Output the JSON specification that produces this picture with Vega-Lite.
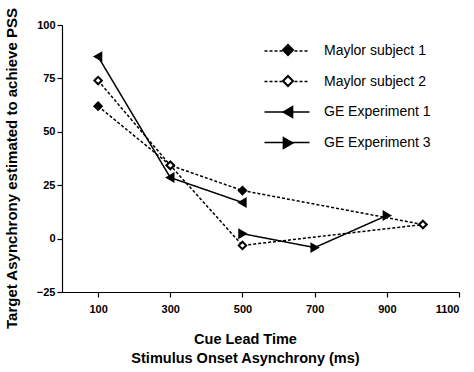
{
  "$schema": "https://vega.github.io/schema/vega-lite/v6.json",
  "width": 397,
  "height": 267,
  "autosize": "none",
  "padding": {"left": 62, "top": 25, "right": 15, "bottom": 80},
  "background": "white",
  "config": {
    "font": "Liberation Sans",
    "view": {"stroke": null},
    "axis": {"grid": false, "domainColor": "black", "tickColor": "black", "labelColor": "black", "titleColor": "black", "labelFontSize": 11, "labelFontWeight": "bold", "labelFont": "Liberation Sans", "titleFont": "Liberation Sans", "titleFontSize": 14.5, "titleFontWeight": "bold", "tickSize": 5, "domainWidth": 1.2, "tickWidth": 1.2},
    "legend": {"labelFont": "Liberation Sans", "labelFontSize": 14, "labelColor": "black"}
  },
  "data": {"values": [
    {"series": "Maylor subject 1", "x": 100, "y": 62},
    {"series": "Maylor subject 1", "x": 300, "y": 34.3},
    {"series": "Maylor subject 1", "x": 500, "y": 22.5},
    {"series": "Maylor subject 1", "x": 1000, "y": 6.6},
    {"series": "Maylor subject 2", "x": 100, "y": 74},
    {"series": "Maylor subject 2", "x": 300, "y": 34.3},
    {"series": "Maylor subject 2", "x": 500, "y": -3.2},
    {"series": "Maylor subject 2", "x": 1000, "y": 6.6},
    {"series": "GE Experiment 1", "x": 100, "y": 85.2},
    {"series": "GE Experiment 1", "x": 300, "y": 28.6},
    {"series": "GE Experiment 1", "x": 500, "y": 16.9},
    {"series": "GE Experiment 3", "x": 500, "y": 2.3},
    {"series": "GE Experiment 3", "x": 700, "y": -4.2},
    {"series": "GE Experiment 3", "x": 900, "y": 10.8}
  ]},
  "encoding": {
    "x": {"field": "x", "type": "quantitative", "scale": {"domain": [0, 1100], "nice": false, "zero": false},
      "axis": {"values": [100, 300, 500, 700, 900, 1100], "format": "d", "title": ["Cue  Lead  Time", "Stimulus  Onset  Asynchrony  (ms)"], "titleX": 183, "titlePadding": 18, "labelPadding": 6, "titleLineHeight": 19}},
    "y": {"field": "y", "type": "quantitative", "scale": {"domain": [-25, 100], "nice": false, "zero": false},
      "axis": {"values": [-25, 0, 25, 50, 75, 100], "format": "d", "title": "Target  Asynchrony  estimated  to  achieve  PSS", "titleFontSize": 15, "titlePadding": 17, "titleY": 143}}
  },
  "layer": [
    {
      "mark": {"type": "line", "color": "black"},
      "encoding": {
        "order": {"field": "x"},
        "strokeDash": {"field": "series", "type": "nominal",
          "scale": {"domain": ["Maylor subject 1", "Maylor subject 2", "GE Experiment 1", "GE Experiment 3"], "range": [[3, 2], [3, 2], [1, 0], [1, 0]]},
          "legend": {"orient": "none", "legendX": 209, "legendY": 10, "title": null, "padding": 0, "symbolType": "M-1.5,0H1.5", "symbolSize": 900, "symbolStrokeColor": "black", "symbolStrokeWidth": 1.8, "symbolFillColor": "transparent", "labelOffset": 21, "rowPadding": 7.5}},
        "strokeWidth": {"field": "series", "type": "nominal", "scale": {"domain": ["Maylor subject 1", "Maylor subject 2", "GE Experiment 1", "GE Experiment 3"], "range": [1.5, 1.5, 2, 2]}, "legend": null}
      }
    },
    {
      "mark": {"type": "point", "filled": true, "stroke": "black", "strokeWidth": 2, "opacity": 1},
      "encoding": {
        "shape": {"field": "series", "type": "nominal", "sort": ["Maylor subject 1", "Maylor subject 2", "GE Experiment 1", "GE Experiment 3"],
          "scale": {"range": ["diamond", "diamond", "triangle-left", "triangle-right"]},
          "legend": {"orient": "none", "legendX": 219, "legendY": 18, "title": null, "padding": 0, "labelExpr": "''", "rowPadding": 13, "symbolStrokeColor": "black", "symbolStrokeWidth": 2,
            "symbolFillColor": {"expr": "datum.value === 'Maylor subject 2' ? 'white' : 'black'"},
            "encode": {"symbols": {"update": {
              "fill": {"signal": "datum.value === 'Maylor subject 2' ? 'white' : 'black'"},
              "size": {"signal": "indexof(datum.value, 'GE') === 0 ? 130 : 55"}}}}}},
        "fill": {"field": "series", "type": "nominal", "sort": ["Maylor subject 1", "Maylor subject 2", "GE Experiment 1", "GE Experiment 3"],
          "scale": {"range": ["black", "white", "black", "black"]}, "legend": null},
        "size": {"field": "series", "type": "nominal", "sort": ["Maylor subject 1", "Maylor subject 2", "GE Experiment 1", "GE Experiment 3"],
          "scale": {"range": [55, 55, 130, 130]}, "legend": null}
      }
    }
  ]
}
